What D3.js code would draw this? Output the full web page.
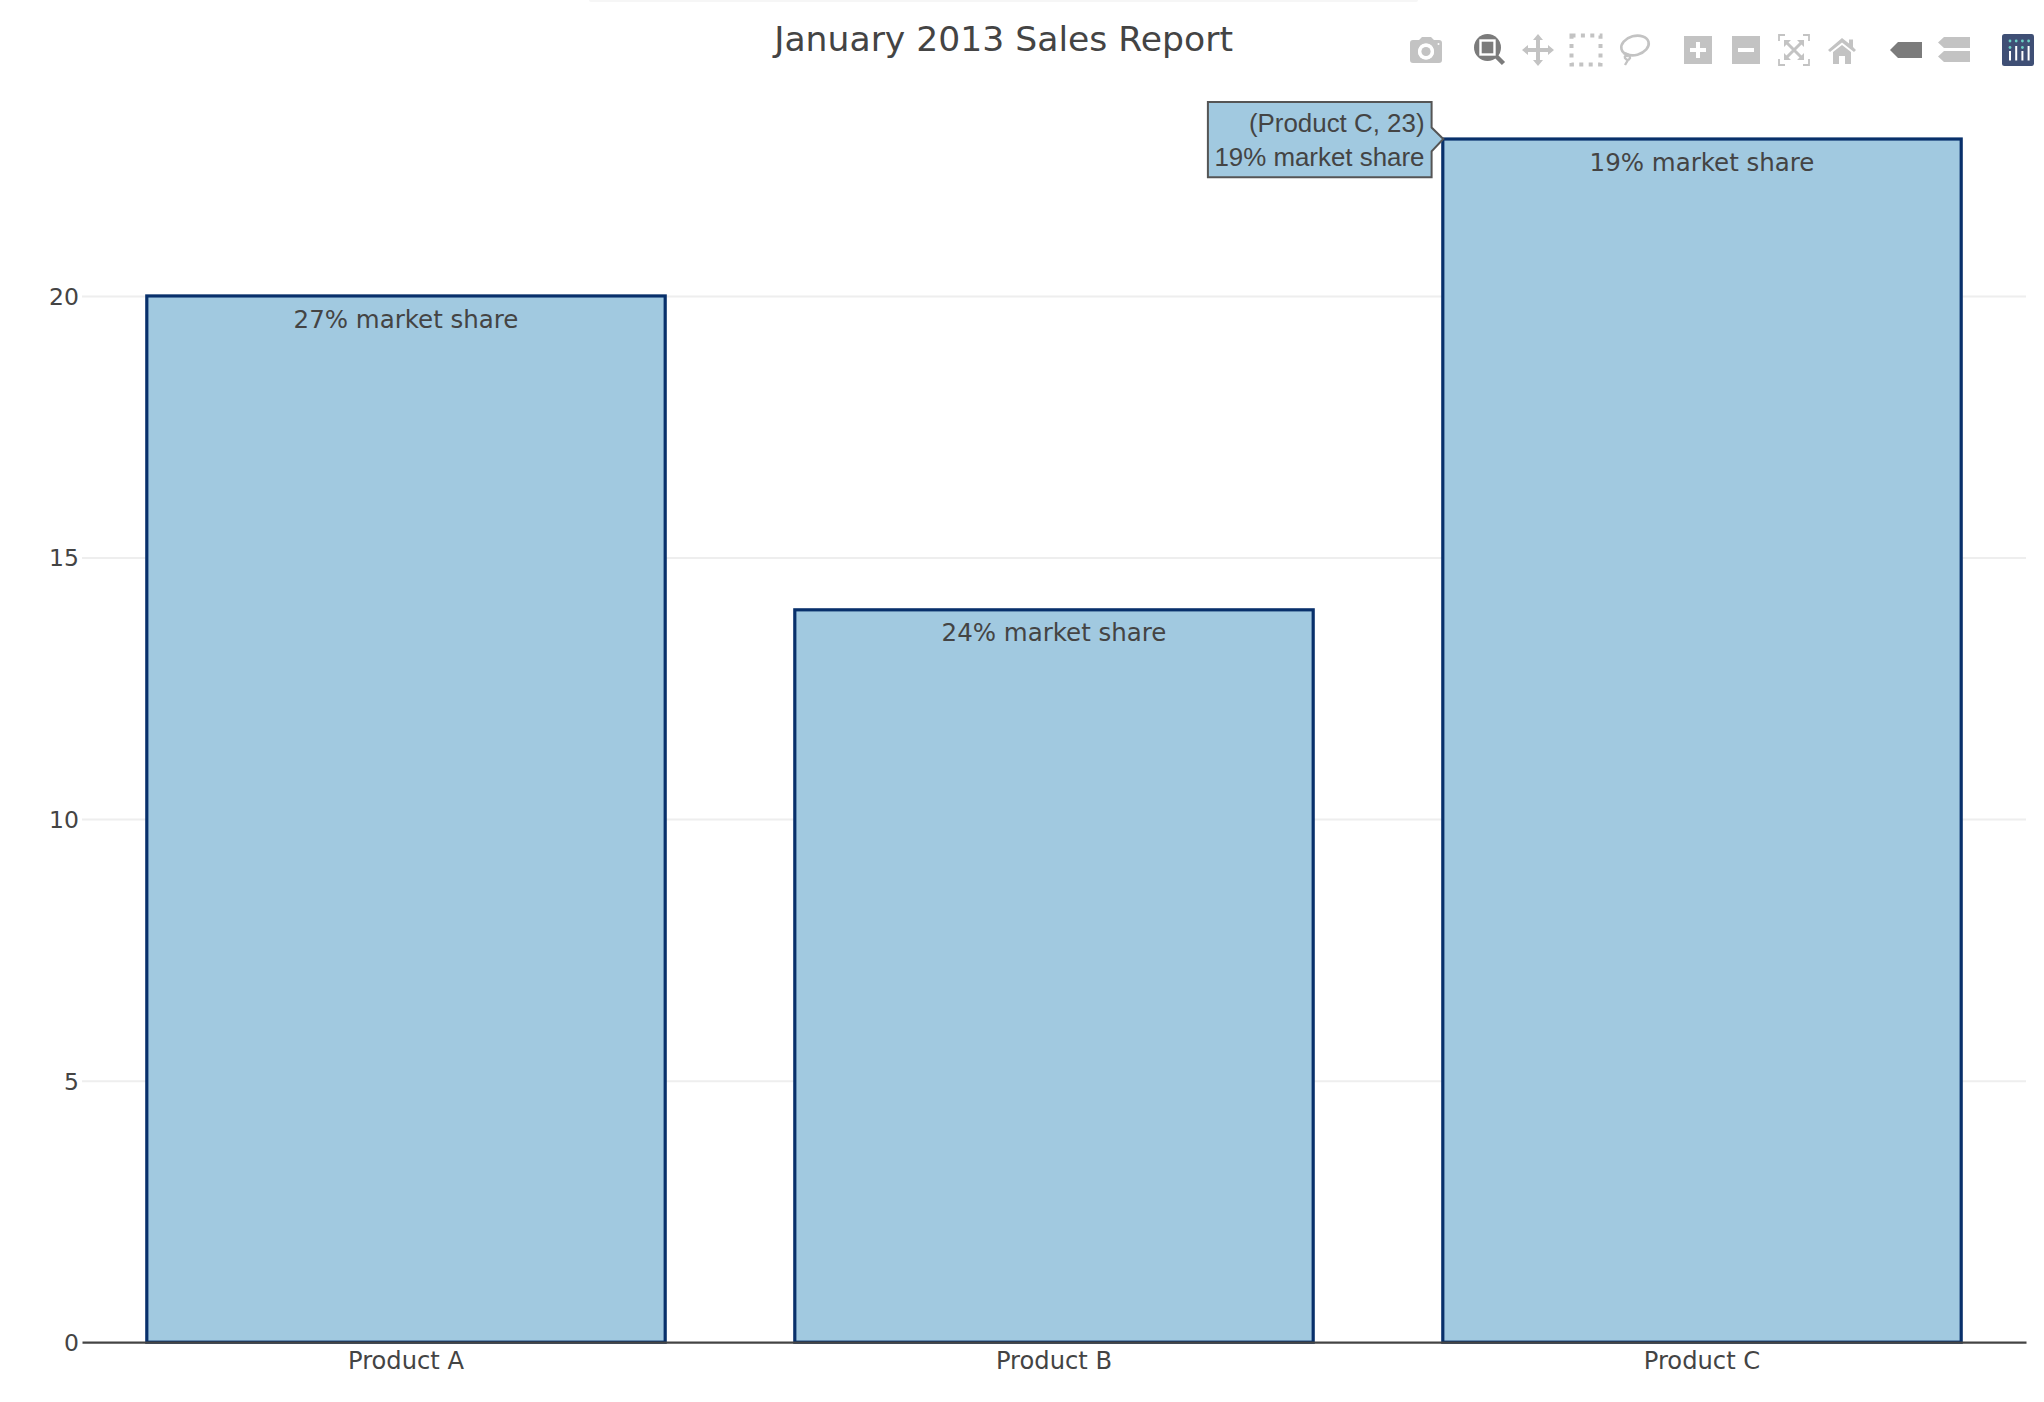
<!DOCTYPE html>
<html><head><meta charset="utf-8">
<script src="https://cdnjs.cloudflare.com/ajax/libs/d3/7.8.5/d3.min.js"></script>
<style>html,body{margin:0;padding:0;background:#fff}svg{display:block}</style>
</head><body><svg id="c" width="2044" height="1402"></svg>
<script>
const title = "January 2013 Sales Report";
const categories = ["Product A", "Product B", "Product C"];
const sales = [20, 14, 23];
const shares = ["27% market share", "24% market share", "19% market share"];
const yTicks = [0, 5, 10, 15, 20];

const FONT = '"DejaVu Sans", Verdana, sans-serif';
const INK = "#444";
const svg = d3.select("#c");
const L = 82, R = 2026, B = 1342.2, T = 139;
const x = d3.scaleBand().domain(categories).range([L, R]).paddingInner(0.2).paddingOuter(0.1);
const y = d3.scaleLinear().domain([0, 23]).range([B, T]);

svg.append("rect").attr("x", 589).attr("y", -3).attr("width", 829).attr("height", 5).attr("rx", 2).attr("fill", "#f6f6f6");

// y axis with grid
const gy = svg.append("g").attr("transform", `translate(${L},0)`)
  .call(d3.axisLeft(y).tickValues(yTicks).tickSize(-(R - L)).tickPadding(3));
gy.select(".domain").remove();
gy.selectAll(".tick line").attr("stroke", "#eee").attr("stroke-width", 2);
gy.selectAll(".tick").filter(d => d === 0).select("line").remove();
gy.selectAll("text").attr("font-family", FONT).attr("font-size", 23.5).attr("fill", INK).attr("dy", "0.36em");

// bars
const bars = svg.append("g").selectAll("g").data(categories).join("g");
bars.append("rect")
  .attr("x", d => x(d)).attr("width", x.bandwidth())
  .attr("y", (d, i) => y(sales[i])).attr("height", (d, i) => y(0) - y(sales[i]))
  .attr("fill", "#a1c9e0").attr("stroke", "#08306b").attr("stroke-width", 3.2);
bars.append("text")
  .attr("x", d => x(d) + x.bandwidth() / 2)
  .attr("y", (d, i) => y(sales[i]) + 31.6)
  .attr("text-anchor", "middle").attr("font-family", FONT).attr("font-size", 24.5).attr("fill", INK)
  .text((d, i) => shares[i]);

// x axis
const gx = svg.append("g").attr("transform", `translate(0,${B})`)
  .call(d3.axisBottom(x).tickSize(0).tickPadding(0));
gx.select(".domain").attr("stroke", INK).attr("stroke-width", 2.2);
gx.selectAll("text").attr("font-family", FONT).attr("font-size", 24.2).attr("fill", INK).attr("dy", null).attr("y", 27.2);

// title
svg.append("text").attr("x", 1003.6).attr("y", 50.7).attr("text-anchor", "middle")
  .attr("font-family", FONT).attr("font-size", 34.6).attr("fill", INK).text(title);

// hover label on the last bar
const hi = 2;
const tipX = x(categories[hi]) + 0.5, tipY = y(sales[hi]);
const hover = svg.append("g").attr("transform", `translate(${tipX},${tipY})`);
hover.append("path")
  .attr("d", "M0,0 L-11.7,-11.5 V-37 H-235.4 V38.3 H-11.7 V12.3 Z")
  .attr("fill", "#a1c9e0").attr("stroke", "#555").attr("stroke-width", 2);
hover.selectAll("text").data([`(${categories[hi]}, ${sales[hi]})`, shares[hi]]).join("text")
  .attr("x", -18.8).attr("y", (d, i) => i === 0 ? -7 : 27.4)
  .attr("text-anchor", "end").attr("font-family", '"Liberation Sans", Arial, sans-serif')
  .attr("font-size", 25.9).attr("fill", INK).text(d => d);

// modebar
const LG = "#c3c3c3", DK = "#7b7b7b";
const mb = svg.append("g");
// camera
mb.append("path").attr("fill", LG).attr("fill-rule", "evenodd")
  .attr("d", "M1413,40 H1419 L1422,37 H1431 L1434,40 H1439 Q1442,40 1442,43 V60 Q1442,63 1439,63 H1413 Q1410,63 1410,60 V43 Q1410,40 1413,40 Z M1426,43.5 a8,8 0 1,0 0.01,0 Z");
mb.append("circle").attr("cx", 1426).attr("cy", 51.5).attr("r", 8).attr("fill", "#fff");
mb.append("circle").attr("cx", 1426).attr("cy", 51.5).attr("r", 4.6).attr("fill", LG);
mb.append("circle").attr("cx", 1438.5).attr("cy", 44).attr("r", 1).attr("fill", "#fff");
// zoom
mb.append("circle").attr("cx", 1487.5).attr("cy", 47.5).attr("r", 13.5).attr("fill", DK);
mb.append("line").attr("x1", 1495).attr("y1", 55).attr("x2", 1503.5).attr("y2", 63.5).attr("stroke", DK).attr("stroke-width", 4.5);
mb.append("rect").attr("x", 1480.5).attr("y", 40.5).attr("width", 14).attr("height", 14).attr("fill", DK).attr("stroke", "#fff").attr("stroke-width", 2.4);
// pan
mb.append("path").attr("fill", LG).attr("d", "M1538,34 L1543,40 H1540 V48 H1548 V45 L1554,50 L1548,55 V52 H1540 V60 H1543 L1538,66 L1533,60 H1536 V52 H1528 V55 L1522,50 L1528,45 V48 H1536 V40 H1533 Z");
// box select (dotted square)
mb.append("rect").attr("x", 1571.5).attr("y", 35.5).attr("width", 29).attr("height", 29).attr("fill", "none").attr("stroke", LG).attr("stroke-width", 4).attr("stroke-dasharray", "4 5.4");
// lasso
mb.append("ellipse").attr("cx", 1635).attr("cy", 45.5).attr("rx", 14).attr("ry", 9.5).attr("transform", "rotate(-15 1635 45.5)").attr("fill", "none").attr("stroke", LG).attr("stroke-width", 2.6);
mb.append("path").attr("d", "M1623,53 Q1630,54 1630,58 Q1628,62 1625,58 Q1624,55 1628,56 M1628,60 L1625,65").attr("fill", "none").attr("stroke", LG).attr("stroke-width", 2.4);
// zoom in / out
mb.append("path").attr("fill", LG).attr("fill-rule", "evenodd").attr("d", "M1684,36 H1712 V64 H1684 Z M1696,42 V48 H1690 V52 H1696 V58 H1700 V52 H1706 V48 H1700 V42 Z");
mb.append("path").attr("fill", LG).attr("fill-rule", "evenodd").attr("d", "M1732,36 H1760 V64 H1732 Z M1738,48 V52 H1754 V48 Z");
// autoscale
mb.append("path").attr("fill", "none").attr("stroke", LG).attr("stroke-width", 1.8).attr("d", "M1785,35 H1779 V41 M1803,35 H1809 V41 M1785,65 H1779 V59 M1803,65 H1809 V59");
mb.append("path").attr("fill", "none").attr("stroke", LG).attr("stroke-width", 3).attr("d", "M1786,42 L1802,58 M1802,42 L1786,58");
mb.append("path").attr("fill", LG).attr("d", "M1784,40 H1791 L1784,47 Z M1804,40 H1797 L1804,47 Z M1784,60 H1791 L1784,53 Z M1804,60 H1797 L1804,53 Z");
// home
mb.append("path").attr("fill", LG).attr("d", "M1842,38 L1849,43.5 V39.5 H1853 V47 L1856,50 L1854,52 L1842,42.5 L1830,52 L1828,50 Z M1833,52 L1842,45 L1851,52 V64 H1845 V56 H1839 V64 H1833 Z");
// closest / compare hover
mb.append("path").attr("fill", DK).attr("d", "M1890,50 L1898,42 H1922 V58 H1898 Z");
mb.append("path").attr("fill", LG).attr("d", "M1938,42.5 L1944,37 H1970 V48 H1944 Z M1938,56.5 L1944,51 H1970 V62 H1944 Z");
// logo
mb.append("rect").attr("x", 2002).attr("y", 34).attr("width", 32).attr("height", 32).attr("rx", 2.5).attr("fill", "#3f4f75");
const logoX = [2010, 2016.2, 2022.4, 2028.6];
mb.selectAll(".d1").data(logoX).join("circle").attr("cx", d => d).attr("cy", 41).attr("r", 1.4).attr("fill", "#6bcfc5");
mb.selectAll(".d2").data([logoX[0], logoX[2]]).join("circle").attr("cx", d => d).attr("cy", 47.5).attr("r", 1.4).attr("fill", "#6bcfc5");
mb.selectAll(".b").data([[logoX[0], 51], [logoX[1], 46], [logoX[2], 51], [logoX[3], 46]]).join("rect")
  .attr("x", d => d[0] - 1).attr("y", d => d[1]).attr("width", 2).attr("height", d => 60.5 - d[1]).attr("fill", "#fff");
</script></body></html>
